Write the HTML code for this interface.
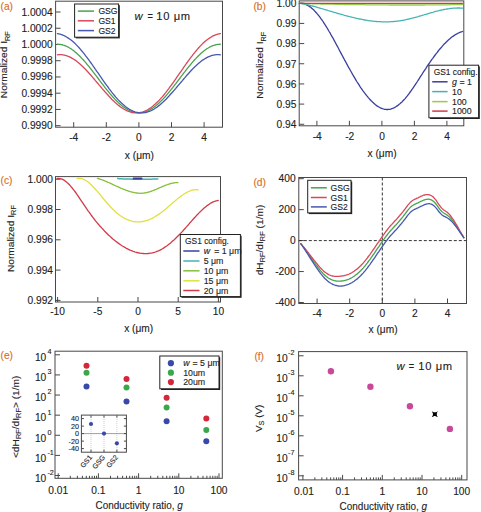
<!DOCTYPE html>
<html><head><meta charset="utf-8"><style>
html,body{margin:0;padding:0;background:#fff;overflow:hidden;}
svg{display:block;font-family:"Liberation Sans", sans-serif;}
text{stroke-width:0.12px;}
</style></head><body>
<svg width="481" height="512" viewBox="0 0 481 512">
<rect width="481" height="512" fill="#fff"/>
<rect x="55.60" y="1.20" width="166.90" height="126.00" stroke="#484848" stroke-width="1" fill="none"/>
<line x1="55.60" y1="12.00" x2="60.60" y2="12.00" stroke="#484848" stroke-width="1"/>
<text x="52.60" y="15.50" font-size="10.2" fill="#222" stroke="#222" text-anchor="end">1.0004</text>
<line x1="55.60" y1="28.24" x2="60.60" y2="28.24" stroke="#484848" stroke-width="1"/>
<text x="52.60" y="31.74" font-size="10.2" fill="#222" stroke="#222" text-anchor="end">1.0002</text>
<line x1="55.60" y1="44.48" x2="60.60" y2="44.48" stroke="#484848" stroke-width="1"/>
<text x="52.60" y="47.98" font-size="10.2" fill="#222" stroke="#222" text-anchor="end">1.0000</text>
<line x1="55.60" y1="60.72" x2="60.60" y2="60.72" stroke="#484848" stroke-width="1"/>
<text x="52.60" y="64.22" font-size="10.2" fill="#222" stroke="#222" text-anchor="end">0.9998</text>
<line x1="55.60" y1="76.96" x2="60.60" y2="76.96" stroke="#484848" stroke-width="1"/>
<text x="52.60" y="80.46" font-size="10.2" fill="#222" stroke="#222" text-anchor="end">0.9996</text>
<line x1="55.60" y1="93.20" x2="60.60" y2="93.20" stroke="#484848" stroke-width="1"/>
<text x="52.60" y="96.70" font-size="10.2" fill="#222" stroke="#222" text-anchor="end">0.9994</text>
<line x1="55.60" y1="109.44" x2="60.60" y2="109.44" stroke="#484848" stroke-width="1"/>
<text x="52.60" y="112.94" font-size="10.2" fill="#222" stroke="#222" text-anchor="end">0.9992</text>
<line x1="55.60" y1="125.68" x2="60.60" y2="125.68" stroke="#484848" stroke-width="1"/>
<text x="52.60" y="129.18" font-size="10.2" fill="#222" stroke="#222" text-anchor="end">0.9990</text>
<line x1="73.70" y1="127.20" x2="73.70" y2="122.20" stroke="#484848" stroke-width="1"/>
<text x="73.70" y="140.80" font-size="10.2" fill="#222" stroke="#222" text-anchor="middle">-4</text>
<line x1="106.30" y1="127.20" x2="106.30" y2="122.20" stroke="#484848" stroke-width="1"/>
<text x="106.30" y="140.80" font-size="10.2" fill="#222" stroke="#222" text-anchor="middle">-2</text>
<line x1="138.90" y1="127.20" x2="138.90" y2="122.20" stroke="#484848" stroke-width="1"/>
<text x="138.90" y="140.80" font-size="10.2" fill="#222" stroke="#222" text-anchor="middle">0</text>
<line x1="171.50" y1="127.20" x2="171.50" y2="122.20" stroke="#484848" stroke-width="1"/>
<text x="171.50" y="140.80" font-size="10.2" fill="#222" stroke="#222" text-anchor="middle">2</text>
<line x1="204.10" y1="127.20" x2="204.10" y2="122.20" stroke="#484848" stroke-width="1"/>
<text x="204.10" y="140.80" font-size="10.2" fill="#222" stroke="#222" text-anchor="middle">4</text>
<text x="139.40" y="159.20" font-size="10.2" fill="#222" stroke="#222" text-anchor="middle">x (μm)</text>
<path d="M57.4,44.2 L58.8,44.3 L60.1,44.4 L61.5,44.7 L62.8,45.0 L64.2,45.4 L65.5,45.9 L66.9,46.5 L68.3,47.2 L69.6,48.0 L71.0,48.8 L72.3,49.8 L73.7,50.8 L75.1,51.9 L76.4,53.0 L77.8,54.3 L79.1,55.6 L80.5,56.9 L81.8,58.4 L83.2,59.8 L84.6,61.4 L85.9,62.9 L87.3,64.6 L88.6,66.2 L90.0,67.9 L91.4,69.6 L92.7,71.4 L94.1,73.1 L95.4,74.9 L96.8,76.7 L98.2,78.5 L99.5,80.3 L100.9,82.1 L102.2,83.9 L103.6,85.6 L104.9,87.4 L106.3,89.1 L107.7,90.8 L109.0,92.4 L110.4,94.1 L111.7,95.6 L113.1,97.2 L114.5,98.6 L115.8,100.1 L117.2,101.4 L118.5,102.7 L119.9,104.0 L121.2,105.1 L122.6,106.2 L124.0,107.2 L125.3,108.2 L126.7,109.0 L128.0,109.8 L129.4,110.5 L130.8,111.1 L132.1,111.6 L133.5,112.0 L134.8,112.4 L136.2,112.6 L137.5,112.7 L138.9,112.8 L140.3,112.7 L141.6,112.6 L143.0,112.4 L144.3,112.0 L145.7,111.6 L147.1,111.1 L148.4,110.5 L149.8,109.8 L151.1,109.0 L152.5,108.2 L153.8,107.2 L155.2,106.2 L156.6,105.1 L157.9,104.0 L159.3,102.7 L160.6,101.4 L162.0,100.1 L163.4,98.6 L164.7,97.2 L166.1,95.6 L167.4,94.1 L168.8,92.4 L170.1,90.8 L171.5,89.1 L172.9,87.4 L174.2,85.6 L175.6,83.9 L176.9,82.1 L178.3,80.3 L179.7,78.5 L181.0,76.7 L182.4,74.9 L183.7,73.1 L185.1,71.4 L186.4,69.6 L187.8,67.9 L189.2,66.2 L190.5,64.6 L191.9,62.9 L193.2,61.4 L194.6,59.8 L196.0,58.4 L197.3,56.9 L198.7,55.6 L200.0,54.3 L201.4,53.0 L202.7,51.9 L204.1,50.8 L205.5,49.8 L206.8,48.8 L208.2,48.0 L209.5,47.2 L210.9,46.5 L212.2,45.9 L213.6,45.4 L215.0,45.0 L216.3,44.7 L217.7,44.4 L219.0,44.3 L220.4,44.2" fill="none" stroke="#46a34c" stroke-width="1.3" stroke-linejoin="round" stroke-linecap="round"/>
<path d="M57.4,54.8 L58.8,54.7 L60.1,54.6 L61.5,54.7 L62.8,54.8 L64.2,55.1 L65.5,55.4 L66.9,55.8 L68.3,56.4 L69.6,56.9 L71.0,57.6 L72.3,58.4 L73.7,59.2 L75.1,60.1 L76.4,61.1 L77.8,62.2 L79.1,63.3 L80.5,64.5 L81.8,65.8 L83.2,67.1 L84.6,68.4 L85.9,69.8 L87.3,71.3 L88.6,72.7 L90.0,74.3 L91.4,75.8 L92.7,77.4 L94.1,79.0 L95.4,80.6 L96.8,82.2 L98.2,83.8 L99.5,85.4 L100.9,87.0 L102.2,88.6 L103.6,90.2 L104.9,91.8 L106.3,93.3 L107.7,94.8 L109.0,96.3 L110.4,97.8 L111.7,99.2 L113.1,100.5 L114.5,101.8 L115.8,103.1 L117.2,104.3 L118.5,105.4 L119.9,106.4 L121.2,107.4 L122.6,108.3 L124.0,109.2 L125.3,109.9 L126.7,110.6 L128.0,111.2 L129.4,111.7 L130.8,112.2 L132.1,112.5 L133.5,112.7 L134.8,112.9 L136.2,112.9 L137.5,112.9 L138.9,112.8 L140.3,112.5 L141.6,112.2 L143.0,111.8 L144.3,111.3 L145.7,110.7 L147.1,110.0 L148.4,109.3 L149.8,108.4 L151.1,107.5 L152.5,106.4 L153.8,105.3 L155.2,104.1 L156.6,102.8 L157.9,101.5 L159.3,100.1 L160.6,98.6 L162.0,97.1 L163.4,95.5 L164.7,93.8 L166.1,92.1 L167.4,90.4 L168.8,88.6 L170.1,86.7 L171.5,84.9 L172.9,83.0 L174.2,81.1 L175.6,79.1 L176.9,77.2 L178.3,75.2 L179.7,73.2 L181.0,71.3 L182.4,69.3 L183.7,67.3 L185.1,65.4 L186.4,63.5 L187.8,61.6 L189.2,59.7 L190.5,57.9 L191.9,56.1 L193.2,54.3 L194.6,52.6 L196.0,51.0 L197.3,49.4 L198.7,47.8 L200.0,46.4 L201.4,44.9 L202.7,43.6 L204.1,42.3 L205.5,41.1 L206.8,40.0 L208.2,39.0 L209.5,38.1 L210.9,37.2 L212.2,36.4 L213.6,35.7 L215.0,35.1 L216.3,34.6 L217.7,34.2 L219.0,33.9 L220.4,33.7" fill="none" stroke="#d9485a" stroke-width="1.3" stroke-linejoin="round" stroke-linecap="round"/>
<path d="M57.4,33.7 L58.8,33.9 L60.1,34.2 L61.5,34.6 L62.8,35.1 L64.2,35.7 L65.5,36.4 L66.9,37.2 L68.3,38.1 L69.6,39.0 L71.0,40.0 L72.3,41.1 L73.7,42.3 L75.1,43.6 L76.4,44.9 L77.8,46.4 L79.1,47.8 L80.5,49.4 L81.8,51.0 L83.2,52.6 L84.6,54.3 L85.9,56.1 L87.3,57.9 L88.6,59.7 L90.0,61.6 L91.4,63.5 L92.7,65.4 L94.1,67.3 L95.4,69.3 L96.8,71.3 L98.2,73.2 L99.5,75.2 L100.9,77.2 L102.2,79.1 L103.6,81.1 L104.9,83.0 L106.3,84.9 L107.7,86.7 L109.0,88.6 L110.4,90.4 L111.7,92.1 L113.1,93.8 L114.5,95.5 L115.8,97.1 L117.2,98.6 L118.5,100.1 L119.9,101.5 L121.2,102.8 L122.6,104.1 L124.0,105.3 L125.3,106.4 L126.7,107.5 L128.0,108.4 L129.4,109.3 L130.8,110.0 L132.1,110.7 L133.5,111.3 L134.8,111.8 L136.2,112.2 L137.5,112.5 L138.9,112.8 L140.3,112.9 L141.6,112.9 L143.0,112.9 L144.3,112.7 L145.7,112.5 L147.1,112.2 L148.4,111.7 L149.8,111.2 L151.1,110.6 L152.5,109.9 L153.8,109.2 L155.2,108.3 L156.6,107.4 L157.9,106.4 L159.3,105.4 L160.6,104.3 L162.0,103.1 L163.4,101.8 L164.7,100.5 L166.1,99.2 L167.4,97.8 L168.8,96.3 L170.1,94.8 L171.5,93.3 L172.9,91.8 L174.2,90.2 L175.6,88.6 L176.9,87.0 L178.3,85.4 L179.7,83.8 L181.0,82.2 L182.4,80.6 L183.7,79.0 L185.1,77.4 L186.4,75.8 L187.8,74.3 L189.2,72.7 L190.5,71.3 L191.9,69.8 L193.2,68.4 L194.6,67.1 L196.0,65.8 L197.3,64.5 L198.7,63.3 L200.0,62.2 L201.4,61.1 L202.7,60.1 L204.1,59.2 L205.5,58.4 L206.8,57.6 L208.2,56.9 L209.5,56.4 L210.9,55.8 L212.2,55.4 L213.6,55.1 L215.0,54.8 L216.3,54.7 L217.7,54.6 L219.0,54.7 L220.4,54.8" fill="none" stroke="#4658b0" stroke-width="1.3" stroke-linejoin="round" stroke-linecap="round"/>
<rect x="75.80" y="5.20" width="44.00" height="33.20" fill="#222"/>
<rect x="74.60" y="4.00" width="44.00" height="33.20" fill="#fff" stroke="#222" stroke-width="1"/>
<line x1="77.80" y1="11.10" x2="94.00" y2="11.10" stroke="#46a34c" stroke-width="1.5"/>
<text x="98.40" y="14.40" font-size="8.6" fill="#222" stroke="#222">GSG</text>
<line x1="77.80" y1="20.80" x2="94.00" y2="20.80" stroke="#d9485a" stroke-width="1.5"/>
<text x="98.40" y="24.10" font-size="8.6" fill="#222" stroke="#222">GS1</text>
<line x1="77.80" y1="30.60" x2="94.00" y2="30.60" stroke="#4658b0" stroke-width="1.5"/>
<text x="98.40" y="33.90" font-size="8.6" fill="#222" stroke="#222">GS2</text>
<text x="134.40" y="19.60" font-size="11.2" fill="#222" stroke="#222" font-style="italic">w</text>
<text x="147.40" y="19.60" font-size="10.5" fill="#222" stroke="#222" textLength="5.4" lengthAdjust="spacingAndGlyphs">=</text>
<text x="156.30" y="19.60" font-size="11.2" fill="#222" stroke="#222" textLength="33.80" lengthAdjust="spacing">10 μm</text>
<text x="0.50" y="9.80" font-size="10.2" fill="#d86c26" stroke="#d86c26">(a)</text>
<text transform="translate(7.40,64.70) rotate(-90) scale(1,0.88)" x="0" y="0" font-size="10.2" fill="#222" stroke="#222" text-anchor="middle"><tspan>Normalized I</tspan><tspan font-size="7.34" dy="2.6">RF</tspan><tspan dy="-2.6"></tspan></text>
<rect x="299.20" y="0.90" width="164.60" height="124.90" stroke="#484848" stroke-width="1" fill="none"/>
<line x1="299.20" y1="3.25" x2="304.20" y2="3.25" stroke="#484848" stroke-width="1"/>
<text x="296.40" y="7.15" font-size="10.2" fill="#222" stroke="#222" text-anchor="end">1.00</text>
<line x1="299.20" y1="23.42" x2="304.20" y2="23.42" stroke="#484848" stroke-width="1"/>
<text x="296.40" y="27.32" font-size="10.2" fill="#222" stroke="#222" text-anchor="end">0.99</text>
<line x1="299.20" y1="43.59" x2="304.20" y2="43.59" stroke="#484848" stroke-width="1"/>
<text x="296.40" y="47.49" font-size="10.2" fill="#222" stroke="#222" text-anchor="end">0.98</text>
<line x1="299.20" y1="63.76" x2="304.20" y2="63.76" stroke="#484848" stroke-width="1"/>
<text x="296.40" y="67.66" font-size="10.2" fill="#222" stroke="#222" text-anchor="end">0.97</text>
<line x1="299.20" y1="83.93" x2="304.20" y2="83.93" stroke="#484848" stroke-width="1"/>
<text x="296.40" y="87.83" font-size="10.2" fill="#222" stroke="#222" text-anchor="end">0.96</text>
<line x1="299.20" y1="104.10" x2="304.20" y2="104.10" stroke="#484848" stroke-width="1"/>
<text x="296.40" y="108.00" font-size="10.2" fill="#222" stroke="#222" text-anchor="end">0.95</text>
<line x1="299.20" y1="124.27" x2="304.20" y2="124.27" stroke="#484848" stroke-width="1"/>
<text x="296.40" y="128.17" font-size="10.2" fill="#222" stroke="#222" text-anchor="end">0.94</text>
<line x1="316.90" y1="125.80" x2="316.90" y2="120.80" stroke="#484848" stroke-width="1"/>
<text x="317.20" y="139.80" font-size="10.2" fill="#222" stroke="#222" text-anchor="middle">-4</text>
<line x1="349.40" y1="125.80" x2="349.40" y2="120.80" stroke="#484848" stroke-width="1"/>
<text x="349.70" y="139.80" font-size="10.2" fill="#222" stroke="#222" text-anchor="middle">-2</text>
<line x1="381.90" y1="125.80" x2="381.90" y2="120.80" stroke="#484848" stroke-width="1"/>
<text x="382.20" y="139.80" font-size="10.2" fill="#222" stroke="#222" text-anchor="middle">0</text>
<line x1="414.40" y1="125.80" x2="414.40" y2="120.80" stroke="#484848" stroke-width="1"/>
<text x="414.70" y="139.80" font-size="10.2" fill="#222" stroke="#222" text-anchor="middle">2</text>
<line x1="446.90" y1="125.80" x2="446.90" y2="120.80" stroke="#484848" stroke-width="1"/>
<text x="447.20" y="139.80" font-size="10.2" fill="#222" stroke="#222" text-anchor="middle">4</text>
<text x="382.00" y="157.00" font-size="10.2" fill="#222" stroke="#222" text-anchor="middle">x (μm)</text>
<path d="M299.4,3.4 L300.4,3.3 L301.5,3.4 L302.5,3.5 L303.5,3.7 L304.5,3.9 L305.6,4.3 L306.6,4.8 L307.6,5.3 L308.6,5.9 L309.7,6.6 L310.7,7.3 L311.7,8.2 L312.7,9.1 L313.8,10.0 L314.8,11.1 L315.8,12.2 L316.8,13.3 L317.9,14.6 L318.9,15.9 L319.9,17.2 L320.9,18.6 L322.0,20.0 L323.0,21.5 L324.0,23.1 L325.0,24.7 L326.1,26.3 L327.1,28.0 L328.1,29.7 L329.1,31.5 L330.2,33.2 L331.2,35.1 L332.2,36.9 L333.3,38.7 L334.3,40.6 L335.3,42.5 L336.3,44.4 L337.4,46.3 L338.4,48.3 L339.4,50.2 L340.4,52.1 L341.5,54.1 L342.5,56.0 L343.5,57.9 L344.5,59.8 L345.6,61.7 L346.6,63.6 L347.6,65.5 L348.6,67.4 L349.7,69.2 L350.7,71.0 L351.7,72.8 L352.7,74.6 L353.8,76.4 L354.8,78.1 L355.8,79.8 L356.8,81.5 L357.9,83.1 L358.9,84.7 L359.9,86.3 L360.9,87.8 L362.0,89.3 L363.0,90.8 L364.0,92.2 L365.1,93.6 L366.1,94.9 L367.1,96.2 L368.1,97.4 L369.2,98.6 L370.2,99.7 L371.2,100.8 L372.2,101.8 L373.3,102.8 L374.3,103.7 L375.3,104.6 L376.3,105.4 L377.4,106.1 L378.4,106.7 L379.4,107.3 L380.4,107.9 L381.5,108.3 L382.5,108.7 L383.5,109.0 L384.5,109.3 L385.6,109.4 L386.6,109.5 L387.6,109.5 L388.6,109.4 L389.7,109.3 L390.7,109.1 L391.7,108.7 L392.7,108.4 L393.8,107.9 L394.8,107.4 L395.8,106.8 L396.8,106.1 L397.9,105.4 L398.9,104.6 L399.9,103.8 L401.0,102.8 L402.0,101.9 L403.0,100.8 L404.0,99.7 L405.1,98.6 L406.1,97.3 L407.1,96.1 L408.1,94.8 L409.2,93.4 L410.2,92.0 L411.2,90.6 L412.2,89.2 L413.3,87.7 L414.3,86.2 L415.3,84.6 L416.3,83.1 L417.4,81.5 L418.4,79.9 L419.4,78.3 L420.4,76.7 L421.5,75.1 L422.5,73.5 L423.5,71.9 L424.5,70.4 L425.6,68.8 L426.6,67.2 L427.6,65.7 L428.6,64.2 L429.7,62.7 L430.7,61.2 L431.7,59.7 L432.8,58.3 L433.8,56.9 L434.8,55.5 L435.8,54.1 L436.9,52.8 L437.9,51.5 L438.9,50.2 L439.9,49.0 L441.0,47.8 L442.0,46.6 L443.0,45.4 L444.0,44.3 L445.1,43.3 L446.1,42.2 L447.1,41.2 L448.1,40.3 L449.2,39.3 L450.2,38.5 L451.2,37.6 L452.2,36.8 L453.3,36.1 L454.3,35.4 L455.3,34.7 L456.3,34.1 L457.4,33.6 L458.4,33.0 L459.4,32.6 L460.4,32.2 L461.5,31.8 L462.5,31.5" fill="none" stroke="#3a3f9e" stroke-width="1.3" stroke-linejoin="round" stroke-linecap="round"/>
<path d="M299.4,3.1 L300.4,3.3 L301.5,3.5 L302.5,3.6 L303.5,3.8 L304.5,4.1 L305.6,4.3 L306.6,4.5 L307.6,4.7 L308.6,5.0 L309.7,5.2 L310.7,5.5 L311.7,5.8 L312.7,6.0 L313.8,6.3 L314.8,6.6 L315.8,6.9 L316.8,7.2 L317.9,7.5 L318.9,7.8 L319.9,8.1 L320.9,8.4 L322.0,8.7 L323.0,9.0 L324.0,9.3 L325.0,9.6 L326.1,9.9 L327.1,10.2 L328.1,10.5 L329.1,10.8 L330.2,11.1 L331.2,11.4 L332.2,11.7 L333.3,12.1 L334.3,12.4 L335.3,12.7 L336.3,13.0 L337.4,13.3 L338.4,13.6 L339.4,13.9 L340.4,14.2 L341.5,14.4 L342.5,14.7 L343.5,15.0 L344.5,15.3 L345.6,15.6 L346.6,15.9 L347.6,16.1 L348.6,16.4 L349.7,16.7 L350.7,16.9 L351.7,17.2 L352.7,17.4 L353.8,17.7 L354.8,17.9 L355.8,18.2 L356.8,18.4 L357.9,18.6 L358.9,18.8 L359.9,19.0 L360.9,19.2 L362.0,19.4 L363.0,19.6 L364.0,19.8 L365.1,20.0 L366.1,20.2 L367.1,20.3 L368.1,20.5 L369.2,20.6 L370.2,20.8 L371.2,20.9 L372.2,21.1 L373.3,21.2 L374.3,21.3 L375.3,21.4 L376.3,21.5 L377.4,21.6 L378.4,21.6 L379.4,21.7 L380.4,21.7 L381.5,21.8 L382.5,21.8 L383.5,21.8 L384.5,21.9 L385.6,21.9 L386.6,21.9 L387.6,21.8 L388.6,21.8 L389.7,21.8 L390.7,21.7 L391.7,21.7 L392.7,21.6 L393.8,21.5 L394.8,21.4 L395.8,21.3 L396.8,21.2 L397.9,21.1 L398.9,20.9 L399.9,20.8 L401.0,20.6 L402.0,20.4 L403.0,20.3 L404.0,20.1 L405.1,19.9 L406.1,19.7 L407.1,19.4 L408.1,19.2 L409.2,19.0 L410.2,18.7 L411.2,18.5 L412.2,18.2 L413.3,17.9 L414.3,17.6 L415.3,17.4 L416.3,17.1 L417.4,16.8 L418.4,16.5 L419.4,16.2 L420.4,15.9 L421.5,15.6 L422.5,15.3 L423.5,15.0 L424.5,14.7 L425.6,14.4 L426.6,14.1 L427.6,13.8 L428.6,13.5 L429.7,13.2 L430.7,12.9 L431.7,12.6 L432.8,12.3 L433.8,12.0 L434.8,11.7 L435.8,11.4 L436.9,11.2 L437.9,10.9 L438.9,10.7 L439.9,10.4 L441.0,10.2 L442.0,10.0 L443.0,9.7 L444.0,9.5 L445.1,9.3 L446.1,9.2 L447.1,9.0 L448.1,8.8 L449.2,8.7 L450.2,8.5 L451.2,8.4 L452.2,8.3 L453.3,8.2 L454.3,8.2 L455.3,8.1 L456.3,8.1 L457.4,8.0 L458.4,8.0 L459.4,8.0 L460.4,8.1 L461.5,8.1 L462.5,8.2" fill="none" stroke="#45b3b3" stroke-width="1.3" stroke-linejoin="round" stroke-linecap="round"/>
<path d="M299.4,3.4 L300.4,3.4 L301.5,3.4 L302.5,3.5 L303.5,3.5 L304.5,3.5 L305.6,3.6 L306.6,3.6 L307.6,3.6 L308.6,3.6 L309.7,3.7 L310.7,3.7 L311.7,3.7 L312.7,3.8 L313.8,3.8 L314.8,3.8 L315.8,3.8 L316.8,3.9 L317.9,3.9 L318.9,3.9 L319.9,3.9 L320.9,4.0 L322.0,4.0 L323.0,4.0 L324.0,4.0 L325.0,4.1 L326.1,4.1 L327.1,4.1 L328.1,4.1 L329.1,4.2 L330.2,4.2 L331.2,4.2 L332.2,4.2 L333.3,4.2 L334.3,4.3 L335.3,4.3 L336.3,4.3 L337.4,4.3 L338.4,4.3 L339.4,4.4 L340.4,4.4 L341.5,4.4 L342.5,4.4 L343.5,4.4 L344.5,4.5 L345.6,4.5 L346.6,4.5 L347.6,4.5 L348.6,4.5 L349.7,4.5 L350.7,4.6 L351.7,4.6 L352.7,4.6 L353.8,4.6 L354.8,4.6 L355.8,4.6 L356.8,4.6 L357.9,4.7 L358.9,4.7 L359.9,4.7 L360.9,4.7 L362.0,4.7 L363.0,4.7 L364.0,4.7 L365.1,4.7 L366.1,4.8 L367.1,4.8 L368.1,4.8 L369.2,4.8 L370.2,4.8 L371.2,4.8 L372.2,4.8 L373.3,4.8 L374.3,4.8 L375.3,4.9 L376.3,4.9 L377.4,4.9 L378.4,4.9 L379.4,4.9 L380.4,4.9 L381.5,4.9 L382.5,4.9 L383.5,4.9 L384.5,4.9 L385.6,4.9 L386.6,4.9 L387.6,4.9 L388.6,4.9 L389.7,5.0 L390.7,5.0 L391.7,5.0 L392.7,5.0 L393.8,5.0 L394.8,5.0 L395.8,5.0 L396.8,5.0 L397.9,5.0 L398.9,5.0 L399.9,5.0 L401.0,5.0 L402.0,5.0 L403.0,5.0 L404.0,5.0 L405.1,5.0 L406.1,5.0 L407.1,5.0 L408.1,5.0 L409.2,5.0 L410.2,5.0 L411.2,5.0 L412.2,5.0 L413.3,5.0 L414.3,5.0 L415.3,5.0 L416.3,5.0 L417.4,5.0 L418.4,5.0 L419.4,5.0 L420.4,5.0 L421.5,5.0 L422.5,5.0 L423.5,5.0 L424.5,5.0 L425.6,4.9 L426.6,4.9 L427.6,4.9 L428.6,4.9 L429.7,4.9 L430.7,4.9 L431.7,4.9 L432.8,4.9 L433.8,4.9 L434.8,4.9 L435.8,4.9 L436.9,4.9 L437.9,4.9 L438.9,4.9 L439.9,4.8 L441.0,4.8 L442.0,4.8 L443.0,4.8 L444.0,4.8 L445.1,4.8 L446.1,4.8 L447.1,4.8 L448.1,4.8 L449.2,4.8 L450.2,4.7 L451.2,4.7 L452.2,4.7 L453.3,4.7 L454.3,4.7 L455.3,4.7 L456.3,4.7 L457.4,4.7 L458.4,4.6 L459.4,4.6 L460.4,4.6 L461.5,4.6 L462.5,4.6" fill="none" stroke="#9cc94a" stroke-width="1.3" stroke-linejoin="round" stroke-linecap="round"/>
<path d="M299.4,3.3 L462.5,3.3" fill="none" stroke="#d23a48" stroke-width="1.3" stroke-linejoin="round" stroke-linecap="round"/>
<rect x="430.10" y="66.40" width="49.70" height="52.60" fill="#222"/>
<rect x="428.90" y="65.20" width="49.70" height="52.60" fill="#fff" stroke="#222" stroke-width="1"/>
<text x="433.7" y="74.8" font-size="8.3" fill="#222" stroke="#222" textLength="43.9" lengthAdjust="spacingAndGlyphs">GS1 config.</text>
<line x1="432.20" y1="81.80" x2="447.60" y2="81.80" stroke="#3a3f9e" stroke-width="1.5"/>
<line x1="432.20" y1="91.60" x2="447.60" y2="91.60" stroke="#45b3b3" stroke-width="1.5"/>
<text x="452.00" y="94.70" font-size="8.8" fill="#222" stroke="#222">10</text>
<line x1="432.20" y1="101.60" x2="447.60" y2="101.60" stroke="#9cc94a" stroke-width="1.5"/>
<text x="452.00" y="104.70" font-size="8.8" fill="#222" stroke="#222">100</text>
<line x1="432.20" y1="111.10" x2="447.60" y2="111.10" stroke="#d23a48" stroke-width="1.5"/>
<text x="452.00" y="114.20" font-size="8.8" fill="#222" stroke="#222">1000</text>
<text x="452" y="84.9" font-size="8.8" fill="#222" stroke="#222" font-style="italic">g</text>
<text x="459.5" y="84.9" font-size="8.8" fill="#222" stroke="#222">= 1</text>
<text x="253.40" y="10.20" font-size="10.2" fill="#d86c26" stroke="#d86c26">(b)</text>
<text transform="translate(263.40,65.20) rotate(-90) scale(1,0.88)" x="0" y="0" font-size="10.2" fill="#222" stroke="#222" text-anchor="middle"><tspan>Normalized I</tspan><tspan font-size="7.34" dy="2.6">RF</tspan><tspan dy="-2.6"></tspan></text>
<rect x="55.50" y="176.60" width="165.00" height="125.40" stroke="#484848" stroke-width="1" fill="none"/>
<line x1="55.50" y1="179.20" x2="60.50" y2="179.20" stroke="#484848" stroke-width="1"/>
<text x="53.00" y="182.70" font-size="10.2" fill="#222" stroke="#222" text-anchor="end">1.000</text>
<line x1="55.50" y1="209.50" x2="60.50" y2="209.50" stroke="#484848" stroke-width="1"/>
<text x="53.00" y="213.00" font-size="10.2" fill="#222" stroke="#222" text-anchor="end">0.998</text>
<line x1="55.50" y1="239.80" x2="60.50" y2="239.80" stroke="#484848" stroke-width="1"/>
<text x="53.00" y="243.30" font-size="10.2" fill="#222" stroke="#222" text-anchor="end">0.996</text>
<line x1="55.50" y1="270.10" x2="60.50" y2="270.10" stroke="#484848" stroke-width="1"/>
<text x="53.00" y="273.60" font-size="10.2" fill="#222" stroke="#222" text-anchor="end">0.994</text>
<line x1="55.50" y1="300.40" x2="60.50" y2="300.40" stroke="#484848" stroke-width="1"/>
<text x="53.00" y="303.90" font-size="10.2" fill="#222" stroke="#222" text-anchor="end">0.992</text>
<line x1="57.60" y1="302.00" x2="57.60" y2="297.00" stroke="#484848" stroke-width="1"/>
<text x="57.60" y="314.80" font-size="10.2" fill="#222" stroke="#222" text-anchor="middle">-10</text>
<line x1="97.80" y1="302.00" x2="97.80" y2="297.00" stroke="#484848" stroke-width="1"/>
<text x="97.80" y="314.80" font-size="10.2" fill="#222" stroke="#222" text-anchor="middle">-5</text>
<line x1="138.00" y1="302.00" x2="138.00" y2="297.00" stroke="#484848" stroke-width="1"/>
<text x="138.00" y="314.80" font-size="10.2" fill="#222" stroke="#222" text-anchor="middle">0</text>
<line x1="178.20" y1="302.00" x2="178.20" y2="297.00" stroke="#484848" stroke-width="1"/>
<text x="178.20" y="314.80" font-size="10.2" fill="#222" stroke="#222" text-anchor="middle">5</text>
<line x1="218.40" y1="302.00" x2="218.40" y2="297.00" stroke="#484848" stroke-width="1"/>
<text x="218.40" y="314.80" font-size="10.2" fill="#222" stroke="#222" text-anchor="middle">10</text>
<text x="138.70" y="332.00" font-size="10.2" fill="#222" stroke="#222" text-anchor="middle">x (μm)</text>
<path d="M57.0,178.6 L58.0,178.5 L59.0,178.5 L60.0,178.6 L61.1,178.8 L62.1,179.2 L63.1,179.7 L64.1,180.2 L65.1,180.9 L66.1,181.7 L67.1,182.6 L68.2,183.5 L69.2,184.5 L70.2,185.6 L71.2,186.8 L72.2,188.0 L73.2,189.3 L74.2,190.6 L75.3,192.0 L76.3,193.4 L77.3,194.9 L78.3,196.3 L79.3,197.8 L80.3,199.3 L81.3,200.8 L82.4,202.4 L83.4,203.9 L84.4,205.4 L85.4,206.9 L86.4,208.4 L87.4,209.8 L88.4,211.3 L89.5,212.7 L90.5,214.2 L91.5,215.5 L92.5,216.9 L93.5,218.2 L94.5,219.5 L95.5,220.8 L96.6,222.1 L97.6,223.3 L98.6,224.5 L99.6,225.7 L100.6,226.8 L101.6,227.9 L102.7,229.0 L103.7,230.1 L104.7,231.2 L105.7,232.2 L106.7,233.2 L107.7,234.2 L108.7,235.2 L109.8,236.1 L110.8,237.1 L111.8,238.0 L112.8,238.9 L113.8,239.7 L114.8,240.5 L115.8,241.3 L116.9,242.1 L117.9,242.9 L118.9,243.6 L119.9,244.3 L120.9,245.0 L121.9,245.7 L122.9,246.3 L124.0,246.9 L125.0,247.5 L126.0,248.1 L127.0,248.6 L128.0,249.1 L129.0,249.6 L130.0,250.1 L131.1,250.5 L132.1,250.9 L133.1,251.3 L134.1,251.6 L135.1,252.0 L136.1,252.3 L137.1,252.5 L138.2,252.8 L139.2,253.0 L140.2,253.2 L141.2,253.3 L142.2,253.4 L143.2,253.5 L144.2,253.6 L145.3,253.6 L146.3,253.6 L147.3,253.6 L148.3,253.5 L149.3,253.4 L150.3,253.2 L151.3,253.1 L152.4,252.9 L153.4,252.6 L154.4,252.3 L155.4,252.0 L156.4,251.6 L157.4,251.2 L158.4,250.8 L159.5,250.3 L160.5,249.8 L161.5,249.3 L162.5,248.7 L163.5,248.1 L164.5,247.4 L165.5,246.7 L166.6,246.0 L167.6,245.3 L168.6,244.5 L169.6,243.7 L170.6,242.9 L171.6,242.0 L172.6,241.1 L173.7,240.2 L174.7,239.3 L175.7,238.3 L176.7,237.3 L177.7,236.3 L178.7,235.3 L179.8,234.2 L180.8,233.1 L181.8,232.1 L182.8,231.0 L183.8,229.8 L184.8,228.7 L185.8,227.6 L186.9,226.4 L187.9,225.3 L188.9,224.1 L189.9,222.9 L190.9,221.8 L191.9,220.6 L192.9,219.5 L194.0,218.3 L195.0,217.2 L196.0,216.1 L197.0,215.0 L198.0,214.0 L199.0,212.9 L200.0,211.9 L201.1,210.9 L202.1,209.9 L203.1,209.0 L204.1,208.1 L205.1,207.2 L206.1,206.4 L207.1,205.6 L208.2,204.9 L209.2,204.2 L210.2,203.5 L211.2,202.9 L212.2,202.4 L213.2,201.9 L214.2,201.5 L215.3,201.1 L216.3,200.8 L217.3,200.6 L218.3,200.4" fill="none" stroke="#d23a48" stroke-width="1.3" stroke-linejoin="round" stroke-linecap="round"/>
<path d="M77.1,178.6 L77.9,178.4 L78.6,178.4 L79.4,178.3 L80.1,178.4 L80.9,178.5 L81.7,178.7 L82.4,178.9 L83.2,179.2 L84.0,179.5 L84.7,179.9 L85.5,180.3 L86.2,180.8 L87.0,181.3 L87.8,181.8 L88.5,182.4 L89.3,183.1 L90.0,183.7 L90.8,184.4 L91.6,185.2 L92.3,185.9 L93.1,186.7 L93.9,187.5 L94.6,188.3 L95.4,189.2 L96.1,190.0 L96.9,190.9 L97.7,191.8 L98.4,192.7 L99.2,193.6 L99.9,194.5 L100.7,195.4 L101.5,196.4 L102.2,197.3 L103.0,198.2 L103.8,199.1 L104.5,200.0 L105.3,201.0 L106.0,201.8 L106.8,202.7 L107.6,203.6 L108.3,204.5 L109.1,205.3 L109.9,206.2 L110.6,207.0 L111.4,207.8 L112.1,208.6 L112.9,209.3 L113.7,210.1 L114.4,210.8 L115.2,211.5 L115.9,212.2 L116.7,212.9 L117.5,213.5 L118.2,214.1 L119.0,214.7 L119.8,215.3 L120.5,215.8 L121.3,216.3 L122.0,216.8 L122.8,217.3 L123.6,217.7 L124.3,218.2 L125.1,218.6 L125.8,218.9 L126.6,219.3 L127.4,219.6 L128.1,219.9 L128.9,220.2 L129.7,220.5 L130.4,220.7 L131.2,220.9 L131.9,221.1 L132.7,221.3 L133.5,221.5 L134.2,221.6 L135.0,221.7 L135.7,221.8 L136.5,221.8 L137.3,221.9 L138.0,221.9 L138.8,221.9 L139.6,221.9 L140.3,221.8 L141.1,221.7 L141.8,221.6 L142.6,221.5 L143.4,221.4 L144.1,221.2 L144.9,221.0 L145.6,220.8 L146.4,220.6 L147.2,220.4 L147.9,220.1 L148.7,219.8 L149.5,219.5 L150.2,219.2 L151.0,218.8 L151.7,218.5 L152.5,218.1 L153.3,217.7 L154.0,217.3 L154.8,216.8 L155.5,216.4 L156.3,215.9 L157.1,215.4 L157.8,214.9 L158.6,214.4 L159.4,213.9 L160.1,213.3 L160.9,212.8 L161.6,212.2 L162.4,211.6 L163.2,211.0 L163.9,210.4 L164.7,209.8 L165.4,209.2 L166.2,208.5 L167.0,207.9 L167.7,207.3 L168.5,206.6 L169.3,205.9 L170.0,205.3 L170.8,204.6 L171.5,203.9 L172.3,203.3 L173.1,202.6 L173.8,202.0 L174.6,201.3 L175.4,200.7 L176.1,200.0 L176.9,199.4 L177.6,198.7 L178.4,198.1 L179.2,197.5 L179.9,196.9 L180.7,196.3 L181.4,195.8 L182.2,195.2 L183.0,194.7 L183.7,194.2 L184.5,193.7 L185.3,193.2 L186.0,192.8 L186.8,192.4 L187.5,192.0 L188.3,191.6 L189.1,191.3 L189.8,191.0 L190.6,190.7 L191.3,190.4 L192.1,190.2 L192.9,190.0 L193.6,189.9 L194.4,189.8 L195.2,189.7 L195.9,189.7 L196.7,189.7 L197.4,189.8 L198.2,189.9" fill="none" stroke="#e0e040" stroke-width="1.3" stroke-linejoin="round" stroke-linecap="round"/>
<path d="M97.4,178.3 L97.9,178.4 L98.4,178.6 L98.9,178.8 L99.4,178.9 L99.9,179.1 L100.4,179.3 L100.9,179.4 L101.5,179.6 L102.0,179.8 L102.5,180.0 L103.0,180.2 L103.5,180.4 L104.0,180.6 L104.5,180.8 L105.0,181.0 L105.5,181.2 L106.0,181.4 L106.5,181.6 L107.0,181.8 L107.5,182.1 L108.0,182.3 L108.6,182.5 L109.1,182.7 L109.6,183.0 L110.1,183.2 L110.6,183.4 L111.1,183.7 L111.6,183.9 L112.1,184.1 L112.6,184.4 L113.1,184.6 L113.6,184.8 L114.1,185.1 L114.6,185.3 L115.1,185.5 L115.6,185.8 L116.2,186.0 L116.7,186.2 L117.2,186.5 L117.7,186.7 L118.2,186.9 L118.7,187.2 L119.2,187.4 L119.7,187.6 L120.2,187.8 L120.7,188.1 L121.2,188.3 L121.7,188.5 L122.2,188.7 L122.7,188.9 L123.3,189.1 L123.8,189.3 L124.3,189.5 L124.8,189.7 L125.3,189.9 L125.8,190.1 L126.3,190.3 L126.8,190.5 L127.3,190.7 L127.8,190.9 L128.3,191.0 L128.8,191.2 L129.3,191.4 L129.8,191.5 L130.3,191.7 L130.9,191.8 L131.4,191.9 L131.9,192.1 L132.4,192.2 L132.9,192.3 L133.4,192.4 L133.9,192.5 L134.4,192.6 L134.9,192.7 L135.4,192.8 L135.9,192.9 L136.4,193.0 L136.9,193.0 L137.4,193.1 L138.0,193.1 L138.5,193.2 L139.0,193.2 L139.5,193.2 L140.0,193.3 L140.5,193.3 L141.0,193.3 L141.5,193.3 L142.0,193.2 L142.5,193.2 L143.0,193.2 L143.5,193.1 L144.0,193.1 L144.5,193.0 L145.1,192.9 L145.6,192.8 L146.1,192.7 L146.6,192.6 L147.1,192.5 L147.6,192.4 L148.1,192.2 L148.6,192.1 L149.1,191.9 L149.6,191.8 L150.1,191.6 L150.6,191.5 L151.1,191.3 L151.6,191.1 L152.1,190.9 L152.7,190.7 L153.2,190.5 L153.7,190.3 L154.2,190.1 L154.7,189.9 L155.2,189.7 L155.7,189.5 L156.2,189.3 L156.7,189.1 L157.2,188.8 L157.7,188.6 L158.2,188.4 L158.7,188.2 L159.2,188.0 L159.8,187.7 L160.3,187.5 L160.8,187.3 L161.3,187.1 L161.8,186.8 L162.3,186.6 L162.8,186.4 L163.3,186.2 L163.8,186.0 L164.3,185.8 L164.8,185.6 L165.3,185.4 L165.8,185.2 L166.3,185.0 L166.8,184.8 L167.4,184.6 L167.9,184.4 L168.4,184.3 L168.9,184.1 L169.4,183.9 L169.9,183.8 L170.4,183.6 L170.9,183.5 L171.4,183.4 L171.9,183.3 L172.4,183.2 L172.9,183.0 L173.4,183.0 L173.9,182.9 L174.5,182.8 L175.0,182.7 L175.5,182.7 L176.0,182.6 L176.5,182.6 L177.0,182.6 L177.5,182.6 L178.0,182.6" fill="none" stroke="#86bf3c" stroke-width="1.3" stroke-linejoin="round" stroke-linecap="round"/>
<path d="M117.7,178.6 L118.0,178.6 L118.2,178.6 L118.5,178.6 L118.7,178.7 L119.0,178.7 L119.2,178.7 L119.5,178.7 L119.7,178.7 L120.0,178.7 L120.2,178.7 L120.5,178.7 L120.7,178.8 L121.0,178.8 L121.2,178.8 L121.5,178.8 L121.7,178.8 L122.0,178.8 L122.2,178.8 L122.5,178.8 L122.7,178.9 L123.0,178.9 L123.2,178.9 L123.5,178.9 L123.8,178.9 L124.0,178.9 L124.3,178.9 L124.5,178.9 L124.8,178.9 L125.0,179.0 L125.3,179.0 L125.5,179.0 L125.8,179.0 L126.0,179.0 L126.3,179.0 L126.5,179.0 L126.8,179.0 L127.0,179.0 L127.3,179.0 L127.5,179.0 L127.8,179.1 L128.0,179.1 L128.3,179.1 L128.5,179.1 L128.8,179.1 L129.0,179.1 L129.3,179.1 L129.6,179.1 L129.8,179.1 L130.1,179.1 L130.3,179.1 L130.6,179.1 L130.8,179.1 L131.1,179.1 L131.3,179.2 L131.6,179.2 L131.8,179.2 L132.1,179.2 L132.3,179.2 L132.6,179.2 L132.8,179.2 L133.1,179.2 L133.3,179.2 L133.6,179.2 L133.8,179.2 L134.1,179.2 L134.3,179.2 L134.6,179.2 L134.8,179.2 L135.1,179.2 L135.4,179.2 L135.6,179.2 L135.9,179.2 L136.1,179.2 L136.4,179.2 L136.6,179.2 L136.9,179.2 L137.1,179.3 L137.4,179.3 L137.6,179.3 L137.9,179.3 L138.1,179.3 L138.4,179.3 L138.6,179.3 L138.9,179.3 L139.1,179.3 L139.4,179.3 L139.6,179.3 L139.9,179.3 L140.1,179.3 L140.4,179.3 L140.7,179.3 L140.9,179.3 L141.2,179.3 L141.4,179.3 L141.7,179.3 L141.9,179.3 L142.2,179.3 L142.4,179.3 L142.7,179.3 L142.9,179.3 L143.2,179.3 L143.4,179.3 L143.7,179.3 L143.9,179.3 L144.2,179.3 L144.4,179.3 L144.7,179.3 L144.9,179.3 L145.2,179.3 L145.4,179.3 L145.7,179.3 L145.9,179.3 L146.2,179.3 L146.5,179.2 L146.7,179.2 L147.0,179.2 L147.2,179.2 L147.5,179.2 L147.7,179.2 L148.0,179.2 L148.2,179.2 L148.5,179.2 L148.7,179.2 L149.0,179.2 L149.2,179.2 L149.5,179.2 L149.7,179.2 L150.0,179.2 L150.2,179.2 L150.5,179.2 L150.7,179.2 L151.0,179.2 L151.2,179.2 L151.5,179.2 L151.7,179.2 L152.0,179.2 L152.3,179.1 L152.5,179.1 L152.8,179.1 L153.0,179.1 L153.3,179.1 L153.5,179.1 L153.8,179.1 L154.0,179.1 L154.3,179.1 L154.5,179.1 L154.8,179.1 L155.0,179.1 L155.3,179.1 L155.5,179.1 L155.8,179.1 L156.0,179.0 L156.3,179.0 L156.5,179.0 L156.8,179.0 L157.0,179.0 L157.3,179.0 L157.5,179.0 L157.8,179.0" fill="none" stroke="#45b3b3" stroke-width="1.5" stroke-linejoin="round" stroke-linecap="round"/>
<path d="M133.6,178.6 L141.5,178.6" fill="none" stroke="#3a3f9e" stroke-width="2.0" stroke-linejoin="round" stroke-linecap="round"/>
<rect x="181.50" y="235.70" width="60.10" height="62.10" fill="#222"/>
<rect x="180.30" y="234.50" width="60.10" height="62.10" fill="#fff" stroke="#222" stroke-width="1"/>
<text x="185" y="244.2" font-size="8.3" fill="#222" stroke="#222" textLength="43.9" lengthAdjust="spacingAndGlyphs">GS1 config.</text>
<line x1="183.30" y1="251.00" x2="199.50" y2="251.00" stroke="#3a3f9e" stroke-width="1.5"/>
<line x1="183.30" y1="261.00" x2="199.50" y2="261.00" stroke="#45b3b3" stroke-width="1.5"/>
<text x="203.70" y="264.10" font-size="8.8" fill="#222" stroke="#222">5 μm</text>
<line x1="183.30" y1="270.80" x2="199.50" y2="270.80" stroke="#86bf3c" stroke-width="1.5"/>
<text x="203.70" y="273.90" font-size="8.8" fill="#222" stroke="#222">10 μm</text>
<line x1="183.30" y1="280.80" x2="199.50" y2="280.80" stroke="#e0e040" stroke-width="1.5"/>
<text x="203.70" y="283.90" font-size="8.8" fill="#222" stroke="#222">15 μm</text>
<line x1="183.30" y1="290.50" x2="199.50" y2="290.50" stroke="#d23a48" stroke-width="1.5"/>
<text x="203.70" y="293.60" font-size="8.8" fill="#222" stroke="#222">20 μm</text>
<text x="203.7" y="254.1" font-size="8.8" fill="#222" stroke="#222" font-style="italic">w</text>
<text x="214.2" y="254.1" font-size="8.8" fill="#222" stroke="#222">= 1 μm</text>
<text x="0.50" y="184.20" font-size="10.2" fill="#d86c26" stroke="#d86c26">(c)</text>
<text transform="translate(13.60,238.60) rotate(-90) scale(1,0.88)" x="0" y="0" font-size="10.2" fill="#222" stroke="#222" text-anchor="middle"><tspan>Normalized I</tspan><tspan font-size="7.34" dy="2.6">RF</tspan><tspan dy="-2.6"></tspan></text>
<rect x="298.80" y="177.50" width="167.70" height="126.00" stroke="#484848" stroke-width="1" fill="none"/>
<line x1="298.80" y1="178.70" x2="303.80" y2="178.70" stroke="#484848" stroke-width="1"/>
<text x="295.60" y="182.20" font-size="10.2" fill="#222" stroke="#222" text-anchor="end">400</text>
<line x1="298.80" y1="209.65" x2="303.80" y2="209.65" stroke="#484848" stroke-width="1"/>
<text x="295.60" y="213.15" font-size="10.2" fill="#222" stroke="#222" text-anchor="end">200</text>
<line x1="298.80" y1="240.60" x2="303.80" y2="240.60" stroke="#484848" stroke-width="1"/>
<text x="295.60" y="244.10" font-size="10.2" fill="#222" stroke="#222" text-anchor="end">0</text>
<line x1="298.80" y1="271.55" x2="303.80" y2="271.55" stroke="#484848" stroke-width="1"/>
<text x="295.60" y="275.05" font-size="10.2" fill="#222" stroke="#222" text-anchor="end">-200</text>
<line x1="298.80" y1="302.50" x2="303.80" y2="302.50" stroke="#484848" stroke-width="1"/>
<text x="295.60" y="306.00" font-size="10.2" fill="#222" stroke="#222" text-anchor="end">-400</text>
<line x1="317.10" y1="303.50" x2="317.10" y2="298.50" stroke="#484848" stroke-width="1"/>
<text x="317.10" y="317.20" font-size="10.2" fill="#222" stroke="#222" text-anchor="middle">-4</text>
<line x1="349.70" y1="303.50" x2="349.70" y2="298.50" stroke="#484848" stroke-width="1"/>
<text x="349.70" y="317.20" font-size="10.2" fill="#222" stroke="#222" text-anchor="middle">-2</text>
<line x1="382.30" y1="303.50" x2="382.30" y2="298.50" stroke="#484848" stroke-width="1"/>
<text x="382.30" y="317.20" font-size="10.2" fill="#222" stroke="#222" text-anchor="middle">0</text>
<line x1="414.90" y1="303.50" x2="414.90" y2="298.50" stroke="#484848" stroke-width="1"/>
<text x="414.90" y="317.20" font-size="10.2" fill="#222" stroke="#222" text-anchor="middle">2</text>
<line x1="447.50" y1="303.50" x2="447.50" y2="298.50" stroke="#484848" stroke-width="1"/>
<text x="447.50" y="317.20" font-size="10.2" fill="#222" stroke="#222" text-anchor="middle">4</text>
<text x="383.00" y="332.50" font-size="10.2" fill="#222" stroke="#222" text-anchor="middle">x (μm)</text>
<line x1="382.30" y1="177.50" x2="382.30" y2="303.50" stroke="#333" stroke-width="1" stroke-dasharray="3,2"/>
<line x1="298.80" y1="240.60" x2="466.50" y2="240.60" stroke="#333" stroke-width="1" stroke-dasharray="3,2"/>
<path d="M300.9,243.8 L301.7,244.8 L302.5,245.9 L303.4,247.0 L304.2,248.1 L305.0,249.2 L305.8,250.4 L306.6,251.5 L307.4,252.7 L308.3,253.9 L309.1,255.0 L309.9,256.2 L310.7,257.4 L311.5,258.6 L312.4,259.7 L313.2,260.9 L314.0,262.1 L314.8,263.2 L315.6,264.3 L316.5,265.4 L317.3,266.5 L318.1,267.6 L318.9,268.6 L319.7,269.7 L320.5,270.6 L321.4,271.6 L322.2,272.5 L323.0,273.4 L323.8,274.2 L324.6,275.0 L325.5,275.8 L326.3,276.5 L327.1,277.1 L327.9,277.7 L328.7,278.2 L329.6,278.7 L330.4,279.1 L331.2,279.5 L332.0,279.9 L332.8,280.2 L333.6,280.4 L334.5,280.7 L335.3,280.8 L336.1,281.0 L336.9,281.1 L337.7,281.2 L338.6,281.2 L339.4,281.2 L340.2,281.2 L341.0,281.1 L341.8,281.0 L342.6,280.9 L343.5,280.8 L344.3,280.6 L345.1,280.4 L345.9,280.2 L346.7,279.9 L347.6,279.6 L348.4,279.3 L349.2,279.0 L350.0,278.6 L350.8,278.2 L351.7,277.7 L352.5,277.2 L353.3,276.7 L354.1,276.2 L354.9,275.6 L355.7,275.0 L356.6,274.4 L357.4,273.7 L358.2,273.0 L359.0,272.3 L359.8,271.5 L360.7,270.7 L361.5,269.8 L362.3,269.0 L363.1,268.1 L363.9,267.1 L364.8,266.2 L365.6,265.2 L366.4,264.1 L367.2,263.1 L368.0,262.0 L368.8,260.9 L369.7,259.8 L370.5,258.7 L371.3,257.5 L372.1,256.4 L372.9,255.2 L373.8,254.0 L374.6,252.8 L375.4,251.6 L376.2,250.4 L377.0,249.2 L377.8,248.0 L378.7,246.8 L379.5,245.6 L380.3,244.4 L381.1,243.2 L381.9,242.0 L382.8,240.8 L383.6,239.7 L384.4,238.6 L385.2,237.4 L386.0,236.3 L386.9,235.3 L387.7,234.2 L388.5,233.2 L389.3,232.2 L390.1,231.2 L390.9,230.3 L391.8,229.4 L392.6,228.5 L393.4,227.6 L394.2,226.7 L395.0,225.8 L395.9,225.0 L396.7,224.1 L397.5,223.2 L398.3,222.2 L399.1,221.3 L399.9,220.3 L400.8,219.3 L401.6,218.3 L402.4,217.3 L403.2,216.3 L404.0,215.2 L404.9,214.2 L405.7,213.1 L406.5,212.0 L407.3,210.9 L408.1,209.9 L409.0,208.9 L409.8,207.9 L410.6,207.1 L411.4,206.4 L412.2,205.7 L413.0,205.2 L413.9,204.7 L414.7,204.3 L415.5,203.9 L416.3,203.6 L417.1,203.2 L418.0,202.8 L418.8,202.4 L419.6,202.0 L420.4,201.6 L421.2,201.2 L422.1,200.9 L422.9,200.5 L423.7,200.2 L424.5,199.9 L425.3,199.6 L426.1,199.4 L427.0,199.3 L427.8,199.2 L428.6,199.2 L429.4,199.3 L430.2,199.5 L431.1,199.8 L431.9,200.2 L432.7,200.7 L433.5,201.4 L434.3,202.1 L435.1,203.0 L436.0,204.0 L436.8,205.1 L437.6,206.2 L438.4,207.4 L439.2,208.5 L440.1,209.6 L440.9,210.5 L441.7,211.4 L442.5,212.1 L443.3,212.7 L444.2,213.3 L445.0,213.7 L445.8,214.2 L446.6,214.7 L447.4,215.2 L448.2,215.9 L449.1,216.6 L449.9,217.4 L450.7,218.2 L451.5,219.2 L452.3,220.2 L453.2,221.3 L454.0,222.4 L454.8,223.5 L455.6,224.8 L456.4,226.0 L457.3,227.3 L458.1,228.5 L458.9,229.9 L459.7,231.2 L460.5,232.5 L461.3,233.8 L462.2,235.1 L463.0,236.4 L463.8,237.7" fill="none" stroke="#46a34c" stroke-width="1.3" stroke-linejoin="round" stroke-linecap="round"/>
<path d="M300.9,243.8 L301.7,244.7 L302.5,245.7 L303.4,246.6 L304.2,247.6 L305.0,248.6 L305.8,249.6 L306.6,250.6 L307.4,251.7 L308.3,252.7 L309.1,253.8 L309.9,254.8 L310.7,255.9 L311.5,257.0 L312.4,258.0 L313.2,259.1 L314.0,260.2 L314.8,261.2 L315.6,262.2 L316.5,263.2 L317.3,264.2 L318.1,265.2 L318.9,266.2 L319.7,267.1 L320.5,268.0 L321.4,268.8 L322.2,269.6 L323.0,270.4 L323.8,271.2 L324.6,271.9 L325.5,272.5 L326.3,273.1 L327.1,273.6 L327.9,274.1 L328.7,274.6 L329.6,275.0 L330.4,275.3 L331.2,275.6 L332.0,275.8 L332.8,276.0 L333.6,276.2 L334.5,276.3 L335.3,276.4 L336.1,276.4 L336.9,276.4 L337.7,276.4 L338.6,276.4 L339.4,276.3 L340.2,276.2 L341.0,276.1 L341.8,276.0 L342.6,275.9 L343.5,275.8 L344.3,275.6 L345.1,275.4 L345.9,275.2 L346.7,274.9 L347.6,274.6 L348.4,274.3 L349.2,274.0 L350.0,273.6 L350.8,273.2 L351.7,272.7 L352.5,272.2 L353.3,271.7 L354.1,271.2 L354.9,270.6 L355.7,270.0 L356.6,269.4 L357.4,268.7 L358.2,268.0 L359.0,267.3 L359.8,266.5 L360.7,265.7 L361.5,264.8 L362.3,264.0 L363.1,263.1 L363.9,262.1 L364.8,261.2 L365.6,260.2 L366.4,259.1 L367.2,258.1 L368.0,257.0 L368.8,255.9 L369.7,254.8 L370.5,253.7 L371.3,252.5 L372.1,251.4 L372.9,250.2 L373.8,249.0 L374.6,247.8 L375.4,246.6 L376.2,245.4 L377.0,244.2 L377.8,243.0 L378.7,241.8 L379.5,240.6 L380.3,239.4 L381.1,238.2 L381.9,237.0 L382.8,235.8 L383.6,234.7 L384.4,233.6 L385.2,232.4 L386.0,231.3 L386.9,230.3 L387.7,229.2 L388.5,228.2 L389.3,227.2 L390.1,226.2 L390.9,225.3 L391.8,224.4 L392.6,223.5 L393.4,222.6 L394.2,221.7 L395.0,220.8 L395.9,220.0 L396.7,219.1 L397.5,218.2 L398.3,217.2 L399.1,216.3 L399.9,215.3 L400.8,214.3 L401.6,213.3 L402.4,212.3 L403.2,211.3 L404.0,210.2 L404.9,209.2 L405.7,208.1 L406.5,207.0 L407.3,205.9 L408.1,204.9 L409.0,203.9 L409.8,202.9 L410.6,202.1 L411.4,201.4 L412.2,200.7 L413.0,200.2 L413.9,199.7 L414.7,199.3 L415.5,198.9 L416.3,198.6 L417.1,198.2 L418.0,197.8 L418.8,197.4 L419.6,197.0 L420.4,196.6 L421.2,196.2 L422.1,195.9 L422.9,195.5 L423.7,195.2 L424.5,195.0 L425.3,194.8 L426.1,194.7 L427.0,194.6 L427.8,194.6 L428.6,194.7 L429.4,194.9 L430.2,195.2 L431.1,195.5 L431.9,196.0 L432.7,196.6 L433.5,197.3 L434.3,198.2 L435.1,199.1 L436.0,200.2 L436.8,201.4 L437.6,202.6 L438.4,203.8 L439.2,205.0 L440.1,206.1 L440.9,207.2 L441.7,208.1 L442.5,208.9 L443.3,209.6 L444.2,210.2 L445.0,210.7 L445.8,211.3 L446.6,211.8 L447.4,212.5 L448.2,213.2 L449.1,214.1 L449.9,215.0 L450.7,216.0 L451.5,217.1 L452.3,218.3 L453.2,219.5 L454.0,220.7 L454.8,222.0 L455.6,223.4 L456.4,224.7 L457.3,226.2 L458.1,227.6 L458.9,229.0 L459.7,230.5 L460.5,231.9 L461.3,233.4 L462.2,234.8 L463.0,236.3 L463.8,237.7" fill="none" stroke="#d9485a" stroke-width="1.3" stroke-linejoin="round" stroke-linecap="round"/>
<path d="M300.9,243.8 L301.7,245.0 L302.5,246.2 L303.4,247.4 L304.2,248.6 L305.0,249.9 L305.8,251.1 L306.6,252.4 L307.4,253.7 L308.3,255.0 L309.1,256.3 L309.9,257.6 L310.7,258.9 L311.5,260.2 L312.4,261.4 L313.2,262.7 L314.0,264.0 L314.8,265.2 L315.6,266.4 L316.5,267.6 L317.3,268.8 L318.1,270.0 L318.9,271.1 L319.7,272.2 L320.5,273.3 L321.4,274.4 L322.2,275.4 L323.0,276.4 L323.8,277.3 L324.6,278.2 L325.5,279.0 L326.3,279.8 L327.1,280.6 L327.9,281.2 L328.7,281.9 L329.6,282.5 L330.4,283.0 L331.2,283.5 L332.0,283.9 L332.8,284.3 L333.6,284.7 L334.5,285.0 L335.3,285.3 L336.1,285.5 L336.9,285.7 L337.7,285.9 L338.6,286.0 L339.4,286.1 L340.2,286.2 L341.0,286.1 L341.8,286.0 L342.6,285.9 L343.5,285.8 L344.3,285.6 L345.1,285.4 L345.9,285.2 L346.7,284.9 L347.6,284.6 L348.4,284.3 L349.2,284.0 L350.0,283.6 L350.8,283.2 L351.7,282.7 L352.5,282.2 L353.3,281.7 L354.1,281.2 L354.9,280.6 L355.7,280.0 L356.6,279.4 L357.4,278.7 L358.2,278.0 L359.0,277.3 L359.8,276.5 L360.7,275.7 L361.5,274.8 L362.3,274.0 L363.1,273.1 L363.9,272.1 L364.8,271.2 L365.6,270.2 L366.4,269.1 L367.2,268.1 L368.0,267.0 L368.8,265.9 L369.7,264.8 L370.5,263.7 L371.3,262.5 L372.1,261.4 L372.9,260.2 L373.8,259.0 L374.6,257.8 L375.4,256.6 L376.2,255.4 L377.0,254.2 L377.8,253.0 L378.7,251.8 L379.5,250.6 L380.3,249.4 L381.1,248.2 L381.9,247.0 L382.8,245.8 L383.6,244.7 L384.4,243.6 L385.2,242.4 L386.0,241.3 L386.9,240.3 L387.7,239.2 L388.5,238.2 L389.3,237.2 L390.1,236.2 L390.9,235.3 L391.8,234.4 L392.6,233.5 L393.4,232.6 L394.2,231.7 L395.0,230.8 L395.9,230.0 L396.7,229.1 L397.5,228.2 L398.3,227.2 L399.1,226.3 L399.9,225.3 L400.8,224.3 L401.6,223.3 L402.4,222.3 L403.2,221.3 L404.0,220.2 L404.9,219.2 L405.7,218.1 L406.5,217.0 L407.3,215.9 L408.1,214.9 L409.0,213.9 L409.8,212.9 L410.6,212.1 L411.4,211.4 L412.2,210.7 L413.0,210.2 L413.9,209.7 L414.7,209.3 L415.5,208.9 L416.3,208.6 L417.1,208.2 L418.0,207.8 L418.8,207.4 L419.6,207.0 L420.4,206.6 L421.2,206.2 L422.1,205.9 L422.9,205.5 L423.7,205.1 L424.5,204.7 L425.3,204.4 L426.1,204.1 L427.0,203.9 L427.8,203.8 L428.6,203.7 L429.4,203.7 L430.2,203.9 L431.1,204.1 L431.9,204.4 L432.7,204.8 L433.5,205.4 L434.3,206.1 L435.1,206.9 L436.0,207.9 L436.8,208.9 L437.6,209.9 L438.4,211.0 L439.2,212.0 L440.1,213.0 L440.9,213.9 L441.7,214.7 L442.5,215.3 L443.3,215.9 L444.2,216.3 L445.0,216.7 L445.8,217.1 L446.6,217.5 L447.4,218.0 L448.2,218.5 L449.1,219.1 L449.9,219.7 L450.7,220.5 L451.5,221.3 L452.3,222.1 L453.2,223.1 L454.0,224.0 L454.8,225.1 L455.6,226.1 L456.4,227.2 L457.3,228.4 L458.1,229.5 L458.9,230.7 L459.7,231.9 L460.5,233.0 L461.3,234.2 L462.2,235.4 L463.0,236.6 L463.8,237.7" fill="none" stroke="#4658b0" stroke-width="1.3" stroke-linejoin="round" stroke-linecap="round"/>
<rect x="308.90" y="181.50" width="43.30" height="32.60" fill="#222"/>
<rect x="307.70" y="180.30" width="43.30" height="32.60" fill="#fff" stroke="#222" stroke-width="1"/>
<line x1="310.90" y1="187.80" x2="326.80" y2="187.80" stroke="#46a34c" stroke-width="1.5"/>
<text x="330.50" y="191.10" font-size="8.6" fill="#222" stroke="#222">GSG</text>
<line x1="310.90" y1="197.50" x2="326.80" y2="197.50" stroke="#d9485a" stroke-width="1.5"/>
<text x="330.50" y="200.80" font-size="8.6" fill="#222" stroke="#222">GS1</text>
<line x1="310.90" y1="206.90" x2="326.80" y2="206.90" stroke="#4658b0" stroke-width="1.5"/>
<text x="330.50" y="210.20" font-size="8.6" fill="#222" stroke="#222">GS2</text>
<text x="253.40" y="186.20" font-size="10.2" fill="#d86c26" stroke="#d86c26">(d)</text>
<text transform="translate(262.6,240) rotate(-90) scale(1,0.88)" font-size="10.2" fill="#222" stroke="#222" text-anchor="middle">dH<tspan font-size="7.4" dy="2.6">RF</tspan><tspan dy="-2.6">/dI</tspan><tspan font-size="7.4" dy="2.6">RF</tspan><tspan dy="-2.6"> (1/m)</tspan></text>
<rect x="55.00" y="351.20" width="167.30" height="127.10" stroke="#484848" stroke-width="1" fill="none"/>
<line x1="55.00" y1="354.80" x2="60.00" y2="354.80" stroke="#484848" stroke-width="1"/>
<text x="46.30" y="361.10" font-size="10.2" fill="#222" stroke="#222" text-anchor="end">10</text>
<text x="47.40" y="354.20" font-size="7.2" fill="#222" stroke="#222">4</text>
<line x1="55.00" y1="374.92" x2="60.00" y2="374.92" stroke="#484848" stroke-width="1"/>
<text x="46.30" y="381.22" font-size="10.2" fill="#222" stroke="#222" text-anchor="end">10</text>
<text x="47.40" y="374.32" font-size="7.2" fill="#222" stroke="#222">3</text>
<line x1="55.00" y1="395.04" x2="60.00" y2="395.04" stroke="#484848" stroke-width="1"/>
<text x="46.30" y="401.34" font-size="10.2" fill="#222" stroke="#222" text-anchor="end">10</text>
<text x="47.40" y="394.44" font-size="7.2" fill="#222" stroke="#222">2</text>
<line x1="55.00" y1="415.16" x2="60.00" y2="415.16" stroke="#484848" stroke-width="1"/>
<text x="46.30" y="421.46" font-size="10.2" fill="#222" stroke="#222" text-anchor="end">10</text>
<text x="47.40" y="414.56" font-size="7.2" fill="#222" stroke="#222">1</text>
<line x1="55.00" y1="435.28" x2="60.00" y2="435.28" stroke="#484848" stroke-width="1"/>
<text x="46.30" y="441.58" font-size="10.2" fill="#222" stroke="#222" text-anchor="end">10</text>
<text x="47.40" y="434.68" font-size="7.2" fill="#222" stroke="#222">0</text>
<line x1="55.00" y1="455.40" x2="60.00" y2="455.40" stroke="#484848" stroke-width="1"/>
<text x="46.30" y="461.70" font-size="10.2" fill="#222" stroke="#222" text-anchor="end">10</text>
<text x="47.40" y="454.80" font-size="7.2" fill="#222" stroke="#222">-1</text>
<line x1="55.00" y1="475.52" x2="60.00" y2="475.52" stroke="#484848" stroke-width="1"/>
<text x="46.30" y="481.82" font-size="10.2" fill="#222" stroke="#222" text-anchor="end">10</text>
<text x="47.40" y="474.92" font-size="7.2" fill="#222" stroke="#222">-2</text>
<line x1="58.20" y1="478.30" x2="58.20" y2="473.30" stroke="#484848" stroke-width="1"/>
<line x1="70.30" y1="478.30" x2="70.30" y2="475.80" stroke="#484848" stroke-width="1"/>
<line x1="77.38" y1="478.30" x2="77.38" y2="475.80" stroke="#484848" stroke-width="1"/>
<line x1="82.40" y1="478.30" x2="82.40" y2="475.80" stroke="#484848" stroke-width="1"/>
<line x1="86.30" y1="478.30" x2="86.30" y2="475.80" stroke="#484848" stroke-width="1"/>
<line x1="89.48" y1="478.30" x2="89.48" y2="475.80" stroke="#484848" stroke-width="1"/>
<line x1="92.17" y1="478.30" x2="92.17" y2="475.80" stroke="#484848" stroke-width="1"/>
<line x1="94.50" y1="478.30" x2="94.50" y2="475.80" stroke="#484848" stroke-width="1"/>
<line x1="96.56" y1="478.30" x2="96.56" y2="475.80" stroke="#484848" stroke-width="1"/>
<line x1="98.40" y1="478.30" x2="98.40" y2="473.30" stroke="#484848" stroke-width="1"/>
<line x1="110.50" y1="478.30" x2="110.50" y2="475.80" stroke="#484848" stroke-width="1"/>
<line x1="117.58" y1="478.30" x2="117.58" y2="475.80" stroke="#484848" stroke-width="1"/>
<line x1="122.60" y1="478.30" x2="122.60" y2="475.80" stroke="#484848" stroke-width="1"/>
<line x1="126.50" y1="478.30" x2="126.50" y2="475.80" stroke="#484848" stroke-width="1"/>
<line x1="129.68" y1="478.30" x2="129.68" y2="475.80" stroke="#484848" stroke-width="1"/>
<line x1="132.37" y1="478.30" x2="132.37" y2="475.80" stroke="#484848" stroke-width="1"/>
<line x1="134.70" y1="478.30" x2="134.70" y2="475.80" stroke="#484848" stroke-width="1"/>
<line x1="136.76" y1="478.30" x2="136.76" y2="475.80" stroke="#484848" stroke-width="1"/>
<line x1="138.60" y1="478.30" x2="138.60" y2="473.30" stroke="#484848" stroke-width="1"/>
<line x1="150.70" y1="478.30" x2="150.70" y2="475.80" stroke="#484848" stroke-width="1"/>
<line x1="157.78" y1="478.30" x2="157.78" y2="475.80" stroke="#484848" stroke-width="1"/>
<line x1="162.80" y1="478.30" x2="162.80" y2="475.80" stroke="#484848" stroke-width="1"/>
<line x1="166.70" y1="478.30" x2="166.70" y2="475.80" stroke="#484848" stroke-width="1"/>
<line x1="169.88" y1="478.30" x2="169.88" y2="475.80" stroke="#484848" stroke-width="1"/>
<line x1="172.57" y1="478.30" x2="172.57" y2="475.80" stroke="#484848" stroke-width="1"/>
<line x1="174.90" y1="478.30" x2="174.90" y2="475.80" stroke="#484848" stroke-width="1"/>
<line x1="176.96" y1="478.30" x2="176.96" y2="475.80" stroke="#484848" stroke-width="1"/>
<line x1="178.80" y1="478.30" x2="178.80" y2="473.30" stroke="#484848" stroke-width="1"/>
<line x1="190.90" y1="478.30" x2="190.90" y2="475.80" stroke="#484848" stroke-width="1"/>
<line x1="197.98" y1="478.30" x2="197.98" y2="475.80" stroke="#484848" stroke-width="1"/>
<line x1="203.00" y1="478.30" x2="203.00" y2="475.80" stroke="#484848" stroke-width="1"/>
<line x1="206.90" y1="478.30" x2="206.90" y2="475.80" stroke="#484848" stroke-width="1"/>
<line x1="210.08" y1="478.30" x2="210.08" y2="475.80" stroke="#484848" stroke-width="1"/>
<line x1="212.77" y1="478.30" x2="212.77" y2="475.80" stroke="#484848" stroke-width="1"/>
<line x1="215.10" y1="478.30" x2="215.10" y2="475.80" stroke="#484848" stroke-width="1"/>
<line x1="217.16" y1="478.30" x2="217.16" y2="475.80" stroke="#484848" stroke-width="1"/>
<line x1="219.00" y1="478.30" x2="219.00" y2="473.30" stroke="#484848" stroke-width="1"/>
<text x="58.20" y="493.60" font-size="10.2" fill="#222" stroke="#222" text-anchor="middle">0.01</text>
<text x="98.40" y="493.60" font-size="10.2" fill="#222" stroke="#222" text-anchor="middle">0.1</text>
<text x="138.60" y="493.60" font-size="10.2" fill="#222" stroke="#222" text-anchor="middle">1</text>
<text x="178.80" y="493.60" font-size="10.2" fill="#222" stroke="#222" text-anchor="middle">10</text>
<text x="219.00" y="493.60" font-size="10.2" fill="#222" stroke="#222" text-anchor="middle">100</text>
<text x="95.6" y="509.4" font-size="10.8" fill="#222" stroke="#222" textLength="87.2" lengthAdjust="spacingAndGlyphs">Conductivity ratio, <tspan font-style="italic">g</tspan></text>
<circle cx="86.50" cy="365.75" r="3.0" fill="#d2283a"/>
<circle cx="86.50" cy="372.75" r="3.0" fill="#3aa84a"/>
<circle cx="86.50" cy="386.50" r="3.0" fill="#3a48a8"/>
<circle cx="126.50" cy="379.00" r="3.0" fill="#d2283a"/>
<circle cx="126.50" cy="387.50" r="3.0" fill="#3aa84a"/>
<circle cx="126.50" cy="401.50" r="3.0" fill="#3a48a8"/>
<circle cx="166.60" cy="397.70" r="3.0" fill="#d2283a"/>
<circle cx="166.60" cy="407.50" r="3.0" fill="#3aa84a"/>
<circle cx="166.60" cy="421.20" r="3.0" fill="#3a48a8"/>
<circle cx="206.30" cy="418.60" r="3.0" fill="#d2283a"/>
<circle cx="206.30" cy="430.00" r="3.0" fill="#3aa84a"/>
<circle cx="206.30" cy="441.30" r="3.0" fill="#3a48a8"/>
<rect x="161.00" y="357.20" width="59.20" height="32.80" fill="#222"/>
<rect x="159.80" y="356.00" width="59.20" height="32.80" fill="#fff" stroke="#222" stroke-width="1"/>
<circle cx="170.90" cy="363.20" r="3.1" fill="#3a48a8"/>
<circle cx="170.90" cy="372.70" r="3.1" fill="#3aa84a"/>
<text x="183.20" y="375.80" font-size="8.8" fill="#222" stroke="#222">10um</text>
<circle cx="170.90" cy="382.10" r="3.1" fill="#d2283a"/>
<text x="183.20" y="385.20" font-size="8.8" fill="#222" stroke="#222">20um</text>
<text x="183.2" y="366.3" font-size="8.8" fill="#222" stroke="#222" font-style="italic">w</text>
<text x="192.5" y="366.3" font-size="8.8" fill="#222" stroke="#222">= 5 μm</text>
<rect x="81.4" y="415.1" width="45.00" height="37.10" fill="#fff" stroke="#484848" stroke-width="1"/>
<line x1="91.00" y1="415.10" x2="91.00" y2="452.20" stroke="#b8bce8" stroke-width="0.8" stroke-dasharray="1,1"/>
<line x1="91.00" y1="415.10" x2="91.00" y2="417.60" stroke="#484848" stroke-width="1"/>
<line x1="91.00" y1="452.20" x2="91.00" y2="449.70" stroke="#484848" stroke-width="1"/>
<line x1="104.00" y1="415.10" x2="104.00" y2="452.20" stroke="#b8bce8" stroke-width="0.8" stroke-dasharray="1,1"/>
<line x1="104.00" y1="415.10" x2="104.00" y2="417.60" stroke="#484848" stroke-width="1"/>
<line x1="104.00" y1="452.20" x2="104.00" y2="449.70" stroke="#484848" stroke-width="1"/>
<line x1="116.90" y1="415.10" x2="116.90" y2="452.20" stroke="#b8bce8" stroke-width="0.8" stroke-dasharray="1,1"/>
<line x1="116.90" y1="415.10" x2="116.90" y2="417.60" stroke="#484848" stroke-width="1"/>
<line x1="116.90" y1="452.20" x2="116.90" y2="449.70" stroke="#484848" stroke-width="1"/>
<line x1="81.40" y1="433.60" x2="126.40" y2="433.60" stroke="#888" stroke-width="0.8"/>
<line x1="81.40" y1="418.60" x2="83.90" y2="418.60" stroke="#484848" stroke-width="1"/>
<line x1="126.40" y1="418.60" x2="123.90" y2="418.60" stroke="#484848" stroke-width="1"/>
<text x="78.90" y="421.20" font-size="7.2" fill="#222" stroke="#222" text-anchor="end">40</text>
<line x1="81.40" y1="426.10" x2="83.90" y2="426.10" stroke="#484848" stroke-width="1"/>
<line x1="126.40" y1="426.10" x2="123.90" y2="426.10" stroke="#484848" stroke-width="1"/>
<text x="78.90" y="428.70" font-size="7.2" fill="#222" stroke="#222" text-anchor="end">20</text>
<line x1="81.40" y1="433.60" x2="83.90" y2="433.60" stroke="#484848" stroke-width="1"/>
<line x1="126.40" y1="433.60" x2="123.90" y2="433.60" stroke="#484848" stroke-width="1"/>
<text x="78.90" y="436.20" font-size="7.2" fill="#222" stroke="#222" text-anchor="end">0</text>
<line x1="81.40" y1="441.10" x2="83.90" y2="441.10" stroke="#484848" stroke-width="1"/>
<line x1="126.40" y1="441.10" x2="123.90" y2="441.10" stroke="#484848" stroke-width="1"/>
<text x="78.90" y="443.70" font-size="7.2" fill="#222" stroke="#222" text-anchor="end">-20</text>
<line x1="81.40" y1="448.60" x2="83.90" y2="448.60" stroke="#484848" stroke-width="1"/>
<line x1="126.40" y1="448.60" x2="123.90" y2="448.60" stroke="#484848" stroke-width="1"/>
<text x="78.90" y="451.20" font-size="7.2" fill="#222" stroke="#222" text-anchor="end">-40</text>
<circle cx="91.00" cy="424.00" r="2.1" fill="#3a48a8"/>
<circle cx="104.00" cy="433.60" r="2.1" fill="#3a48a8"/>
<circle cx="116.90" cy="443.30" r="2.1" fill="#3a48a8"/>
<text transform="translate(92.50,457.60) rotate(-50)" font-size="7.0" fill="#222" stroke="#222" text-anchor="end">GS1</text>
<text transform="translate(105.50,457.60) rotate(-50)" font-size="7.0" fill="#222" stroke="#222" text-anchor="end">GSG</text>
<text transform="translate(118.40,457.60) rotate(-50)" font-size="7.0" fill="#222" stroke="#222" text-anchor="end">GS2</text>
<text x="0.50" y="358.50" font-size="10.2" fill="#d86c26" stroke="#d86c26">(e)</text>
<text transform="translate(18.9,416.8) rotate(-90) scale(1,0.88)" font-size="10.2" fill="#222" stroke="#222" text-anchor="middle">&lt;dH<tspan font-size="7.4" dy="2.6">RF</tspan><tspan dy="-2.6">/dI</tspan><tspan font-size="7.4" dy="2.6">RF</tspan><tspan dy="-2.6">&gt; (1/m)</tspan></text>
<rect x="298.60" y="351.60" width="168.40" height="128.30" stroke="#484848" stroke-width="1" fill="none"/>
<line x1="298.60" y1="355.80" x2="303.60" y2="355.80" stroke="#484848" stroke-width="1"/>
<text x="287.70" y="362.10" font-size="10.2" fill="#222" stroke="#222" text-anchor="end">10</text>
<text x="288.00" y="355.20" font-size="7.2" fill="#222" stroke="#222">-2</text>
<line x1="298.60" y1="375.80" x2="303.60" y2="375.80" stroke="#484848" stroke-width="1"/>
<text x="287.70" y="382.10" font-size="10.2" fill="#222" stroke="#222" text-anchor="end">10</text>
<text x="288.00" y="375.20" font-size="7.2" fill="#222" stroke="#222">-3</text>
<line x1="298.60" y1="395.80" x2="303.60" y2="395.80" stroke="#484848" stroke-width="1"/>
<text x="287.70" y="402.10" font-size="10.2" fill="#222" stroke="#222" text-anchor="end">10</text>
<text x="288.00" y="395.20" font-size="7.2" fill="#222" stroke="#222">-4</text>
<line x1="298.60" y1="415.80" x2="303.60" y2="415.80" stroke="#484848" stroke-width="1"/>
<text x="287.70" y="422.10" font-size="10.2" fill="#222" stroke="#222" text-anchor="end">10</text>
<text x="288.00" y="415.20" font-size="7.2" fill="#222" stroke="#222">-5</text>
<line x1="298.60" y1="435.80" x2="303.60" y2="435.80" stroke="#484848" stroke-width="1"/>
<text x="287.70" y="442.10" font-size="10.2" fill="#222" stroke="#222" text-anchor="end">10</text>
<text x="288.00" y="435.20" font-size="7.2" fill="#222" stroke="#222">-6</text>
<line x1="298.60" y1="455.80" x2="303.60" y2="455.80" stroke="#484848" stroke-width="1"/>
<text x="287.70" y="462.10" font-size="10.2" fill="#222" stroke="#222" text-anchor="end">10</text>
<text x="288.00" y="455.20" font-size="7.2" fill="#222" stroke="#222">-7</text>
<line x1="298.60" y1="475.80" x2="303.60" y2="475.80" stroke="#484848" stroke-width="1"/>
<text x="287.70" y="482.10" font-size="10.2" fill="#222" stroke="#222" text-anchor="end">10</text>
<text x="288.00" y="475.20" font-size="7.2" fill="#222" stroke="#222">-8</text>
<line x1="302.90" y1="479.90" x2="302.90" y2="474.90" stroke="#484848" stroke-width="1"/>
<line x1="314.85" y1="479.90" x2="314.85" y2="477.40" stroke="#484848" stroke-width="1"/>
<line x1="321.84" y1="479.90" x2="321.84" y2="477.40" stroke="#484848" stroke-width="1"/>
<line x1="326.80" y1="479.90" x2="326.80" y2="477.40" stroke="#484848" stroke-width="1"/>
<line x1="330.65" y1="479.90" x2="330.65" y2="477.40" stroke="#484848" stroke-width="1"/>
<line x1="333.79" y1="479.90" x2="333.79" y2="477.40" stroke="#484848" stroke-width="1"/>
<line x1="336.45" y1="479.90" x2="336.45" y2="477.40" stroke="#484848" stroke-width="1"/>
<line x1="338.75" y1="479.90" x2="338.75" y2="477.40" stroke="#484848" stroke-width="1"/>
<line x1="340.78" y1="479.90" x2="340.78" y2="477.40" stroke="#484848" stroke-width="1"/>
<line x1="342.60" y1="479.90" x2="342.60" y2="474.90" stroke="#484848" stroke-width="1"/>
<line x1="354.55" y1="479.90" x2="354.55" y2="477.40" stroke="#484848" stroke-width="1"/>
<line x1="361.54" y1="479.90" x2="361.54" y2="477.40" stroke="#484848" stroke-width="1"/>
<line x1="366.50" y1="479.90" x2="366.50" y2="477.40" stroke="#484848" stroke-width="1"/>
<line x1="370.35" y1="479.90" x2="370.35" y2="477.40" stroke="#484848" stroke-width="1"/>
<line x1="373.49" y1="479.90" x2="373.49" y2="477.40" stroke="#484848" stroke-width="1"/>
<line x1="376.15" y1="479.90" x2="376.15" y2="477.40" stroke="#484848" stroke-width="1"/>
<line x1="378.45" y1="479.90" x2="378.45" y2="477.40" stroke="#484848" stroke-width="1"/>
<line x1="380.48" y1="479.90" x2="380.48" y2="477.40" stroke="#484848" stroke-width="1"/>
<line x1="382.30" y1="479.90" x2="382.30" y2="474.90" stroke="#484848" stroke-width="1"/>
<line x1="394.25" y1="479.90" x2="394.25" y2="477.40" stroke="#484848" stroke-width="1"/>
<line x1="401.24" y1="479.90" x2="401.24" y2="477.40" stroke="#484848" stroke-width="1"/>
<line x1="406.20" y1="479.90" x2="406.20" y2="477.40" stroke="#484848" stroke-width="1"/>
<line x1="410.05" y1="479.90" x2="410.05" y2="477.40" stroke="#484848" stroke-width="1"/>
<line x1="413.19" y1="479.90" x2="413.19" y2="477.40" stroke="#484848" stroke-width="1"/>
<line x1="415.85" y1="479.90" x2="415.85" y2="477.40" stroke="#484848" stroke-width="1"/>
<line x1="418.15" y1="479.90" x2="418.15" y2="477.40" stroke="#484848" stroke-width="1"/>
<line x1="420.18" y1="479.90" x2="420.18" y2="477.40" stroke="#484848" stroke-width="1"/>
<line x1="422.00" y1="479.90" x2="422.00" y2="474.90" stroke="#484848" stroke-width="1"/>
<line x1="433.95" y1="479.90" x2="433.95" y2="477.40" stroke="#484848" stroke-width="1"/>
<line x1="440.94" y1="479.90" x2="440.94" y2="477.40" stroke="#484848" stroke-width="1"/>
<line x1="445.90" y1="479.90" x2="445.90" y2="477.40" stroke="#484848" stroke-width="1"/>
<line x1="449.75" y1="479.90" x2="449.75" y2="477.40" stroke="#484848" stroke-width="1"/>
<line x1="452.89" y1="479.90" x2="452.89" y2="477.40" stroke="#484848" stroke-width="1"/>
<line x1="455.55" y1="479.90" x2="455.55" y2="477.40" stroke="#484848" stroke-width="1"/>
<line x1="457.85" y1="479.90" x2="457.85" y2="477.40" stroke="#484848" stroke-width="1"/>
<line x1="459.88" y1="479.90" x2="459.88" y2="477.40" stroke="#484848" stroke-width="1"/>
<line x1="461.70" y1="479.90" x2="461.70" y2="474.90" stroke="#484848" stroke-width="1"/>
<text x="303.90" y="495.00" font-size="10.2" fill="#222" stroke="#222" text-anchor="middle">0.01</text>
<text x="342.60" y="495.00" font-size="10.2" fill="#222" stroke="#222" text-anchor="middle">0.1</text>
<text x="382.30" y="495.00" font-size="10.2" fill="#222" stroke="#222" text-anchor="middle">1</text>
<text x="422.00" y="495.00" font-size="10.2" fill="#222" stroke="#222" text-anchor="middle">10</text>
<text x="461.70" y="495.00" font-size="10.2" fill="#222" stroke="#222" text-anchor="middle">100</text>
<text x="339.6" y="509.6" font-size="10.8" fill="#222" stroke="#222" textLength="87.4" lengthAdjust="spacingAndGlyphs">Conductivity ratio, <tspan font-style="italic">g</tspan></text>
<circle cx="330.90" cy="371.30" r="3.2" fill="#c8489a"/>
<circle cx="370.40" cy="386.80" r="3.2" fill="#c8489a"/>
<circle cx="409.90" cy="406.30" r="3.2" fill="#c8489a"/>
<circle cx="449.90" cy="428.90" r="3.2" fill="#c8489a"/>
<path d="M431.8,411.3 Q434.8,414.3 437.8,411.3 Q434.8,414.3 437.8,417.3 Q434.8,414.3 431.8,417.3 Q434.8,414.3 431.8,411.3 Z" fill="#000"/>
<path d="M431.8,411.3 Q434.2,414.3 431.8,417.3 Q434.8,414.90000000000003 437.8,417.3 Q435.40000000000003,414.3 437.8,411.3 Q434.8,413.7 431.8,411.3 Z" fill="#000"/>
<text x="396.40" y="369.60" font-size="11.2" fill="#222" stroke="#222" font-style="italic">w</text>
<text x="408.70" y="369.60" font-size="10.5" fill="#222" stroke="#222" textLength="5.4" lengthAdjust="spacingAndGlyphs">=</text>
<text x="418.30" y="369.60" font-size="11.2" fill="#222" stroke="#222" textLength="33.80" lengthAdjust="spacing">10 μm</text>
<text x="254.40" y="360.20" font-size="10.2" fill="#d86c26" stroke="#d86c26">(f)</text>
<text transform="translate(261.6,418.3) rotate(-90) scale(1,0.88)" font-size="9.8" fill="#222" stroke="#222" text-anchor="middle">V<tspan font-size="7.4" dy="2.6">S</tspan><tspan dy="-2.6"> (V)</tspan></text>
</svg></body></html>
